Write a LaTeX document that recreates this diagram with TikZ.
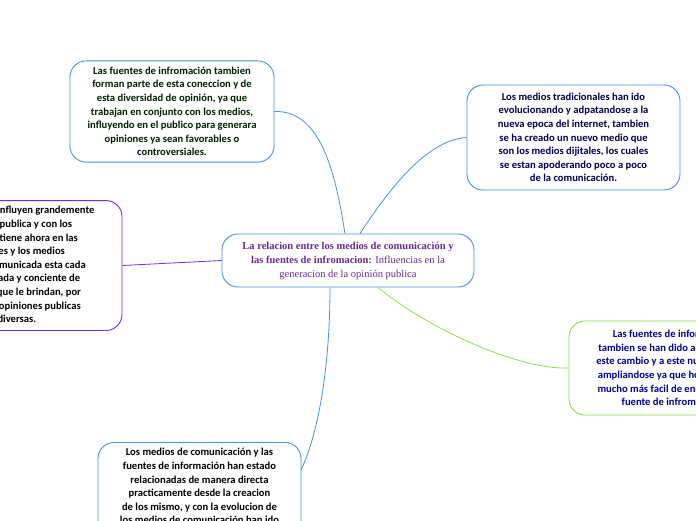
\documentclass[tikz,border=0pt]{standalone}
\usepackage{fontspec}
\setmainfont{Carlito}
\newfontfamily\serif{Liberation Serif}
\definecolor{bl}{HTML}{4A90D9}
\definecolor{pu}{HTML}{7A2BD0}
\definecolor{gr}{HTML}{8EE048}
\definecolor{ttl}{HTML}{6A2A8A}
\tikzset{box/.style={draw=bl,line width=0.9pt,rounded corners=16pt,fill=white,align=center,font=\bfseries\fontsize{10.6}{13.6}\selectfont,inner sep=6pt},
con/.style={line width=0.8pt}}
\begin{document}
\begin{tikzpicture}[x=1pt,y=-1pt]
\useasboundingbox (0,0) rectangle (696,520);
\clip (0,0) rectangle (696,520);
\node[box,draw=bl,minimum width=252,minimum height=53,font=\serif\fontsize{10.5}{14}\selectfont,text=ttl] (c) at (348,260.5) {\textbf{La relacion entre los medios de comunicación y}\\\textbf{las fuentes de infromacion:} Influencias en la\\generacion de la opinión publica};
\node[box,text=black!70!green!40!black,minimum width=204,minimum height=97] (a) at (172,111.5) {Las fuentes de infromación tambien\\forman parte de esta coneccion y de\\esta diversidad de opinión, ya que\\trabajan en conjunto con los medios,\\influyendo en el publico para generara\\opiniones ya sean favorables o\\controversiales.};
\node[box,text=blue!30!black,minimum width=213,minimum height=105] (b) at (573.5,137.5) {Los medios tradicionales han ido\\evolucionando y adpatandose a la\\nueva epoca del internet, tambien\\se ha creado un nuevo medio que\\son los medios dijitales, los cuales\\se estan apoderando poco a poco\\de la comunicación.};
\node[box,draw=pu,text=black,minimum width=232,minimum height=129] (l) at (6,265.5) {Las redes sociales influyen grandemente\\en la opinión publica y con los\\medios que se tiene ahora en las\\redes sociales y los medios\\digitales, esta comunicada esta cada\\vez mas conectada y conciente de\\la información que le brindan, por\\eso se generan opiniones publicas\\muy diversas.};
\node[box,draw=gr,text=blue!60!black,minimum width=206,minimum height=94] (g) at (672,368) {Las fuentes de información\\tambien se han dido adaptando a\\este cambio y a este nuevo medio,\\ampliandose ya que hoy en dia es\\mucho más facil de encontrar una\\fuente de infromación.};
\node[box,text=black,minimum width=203,anchor=north] (d) at (199.5,442) {Los medios de comunicación y las\\fuentes de información han estado\\relacionadas de manera directa\\practicamente desde la creacion\\de los mismo, y con la evolucion de\\los medios de comunicación han ido\\evolucionando tambien.};
\draw[con,bl] (c.north) ++(-3,0) .. controls (335,170) and (320,110) .. (a.east);
\draw[con,bl] (c.north) ++(12,0) .. controls (395,180) and (430,140) .. (b.west);
\draw[con,pu] (c.west) -- (l.east);
\draw[con,gr] (c.south) ++(30,0) .. controls (430,330) and (520,370) .. (g.west);
\draw[con,bl] (c.south) ++(-18,0) .. controls (330,360) and (320,430) .. (301,470);
\end{tikzpicture}
\end{document}
